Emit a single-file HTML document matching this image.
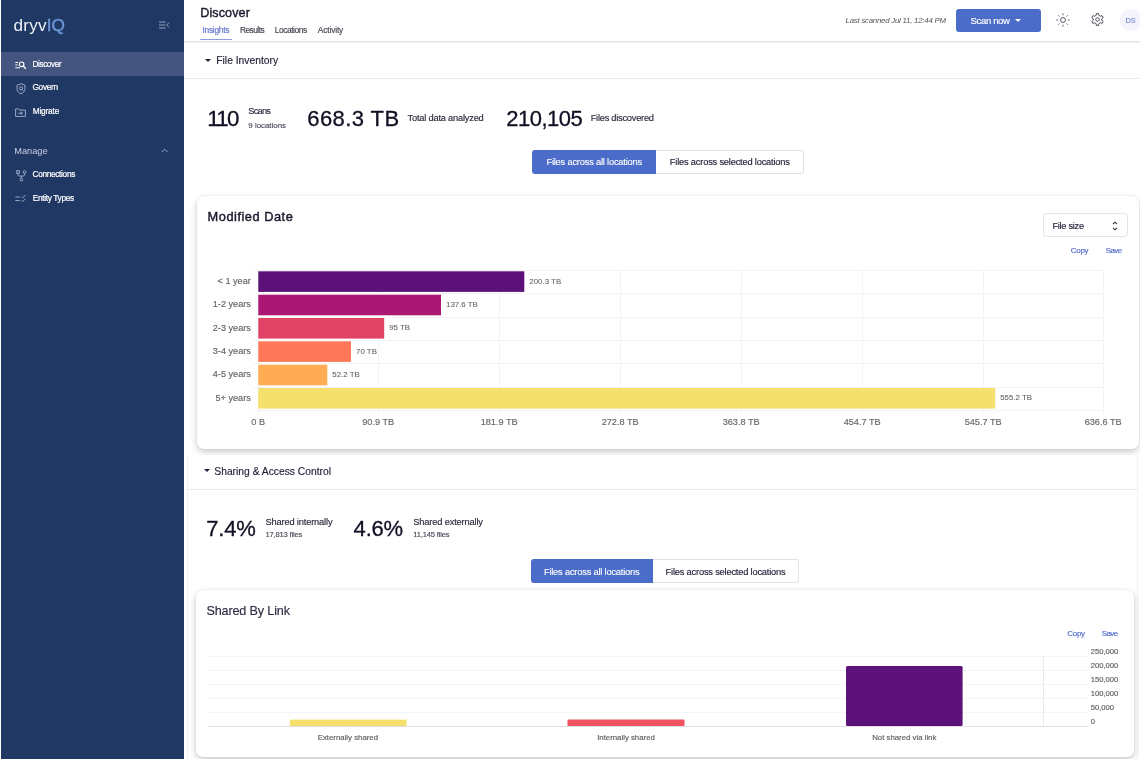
<!DOCTYPE html>
<html lang="en">
<head>
<meta charset="utf-8">
<title>Discover - Insights</title>
<style>
*{box-sizing:border-box;margin:0;padding:0}
html,body{width:1140px;height:759px;overflow:hidden;background:#fff}
body{font-family:"Liberation Sans",sans-serif;color:#1b1b2f;position:relative}
.t{position:absolute;white-space:nowrap;line-height:1;-webkit-text-stroke-width:0.15px}
.a{position:absolute}
#side{position:absolute;left:1px;top:0;width:183px;height:759px;background:#203864}
.card{position:absolute;background:#fff;border-radius:7px;box-shadow:0 3px 7px rgba(0,0,0,.2),0 0 2px rgba(0,0,0,.10)}
.hl{position:absolute;height:1px;left:184px;width:956px}
svg text{font-family:"Liberation Sans",sans-serif}
</style>
</head>
<body>
<div id="side"></div>
<div class="a" style="left:1px;top:52px;width:183px;height:24px;background:#43547f"></div>
<div class="t" style="left:13.60px;top:17.00px;font-size:17.2px;color:#eef1f7;letter-spacing:0.15px;-webkit-text-stroke-width:0;">dryv<span style="color:#6c95d6;-webkit-text-stroke:0.5px #6c95d6">IQ</span></div>
<svg class="a" style="left:159px;top:21px" width="11" height="9" viewBox="0 0 11 9" fill="none" stroke="#8f9dbb" stroke-width="1"><path d="M0 1h6.500M0 4h6.500M0 7h6.500M10 1.500 7.800 4 10 6.500"/></svg>
<svg class="a" style="left:15px;top:60px" width="12" height="10" viewBox="0 0 12 10" fill="none" stroke="#fff"><path d="M.3 2.500h2.700M.3 5h2.300M.3 7.700h4.700" stroke-width="1.100"/><circle cx="6.600" cy="4.300" r="2.300" stroke-width="1.200"/><path d="M8.300 6.100 10.800 8.700" stroke-width="1.400"/></svg>
<div class="t" style="left:32.50px;top:60.00px;font-size:8.3px;color:#ffffff;letter-spacing:-0.45px;-webkit-text-stroke:0.2px #fff;">Discover</div>
<svg class="a" style="left:15.500px;top:83px" width="10" height="12" viewBox="0 0 10 12" fill="none" stroke="#a9b4cf" stroke-width="0.900"><path d="M5 .7 1 2.200v3.500c0 2.500 1.600 4.200 4 5.100 2.400-.9 4-2.600 4-5.100V2.200z"/><circle cx="5" cy="5.400" r="1.600"/><path d="M6.100 6.600 7.200 7.800"/></svg>
<div class="t" style="left:32.50px;top:83.00px;font-size:8.3px;color:#ffffff;letter-spacing:-0.33px;-webkit-text-stroke:0.2px #fff;">Govern</div>
<svg class="a" style="left:15px;top:107.500px" width="11" height="9" viewBox="0 0 11 9" fill="none" stroke="#a9b4cf" stroke-width="0.900"><path d="M.6 .9h3.200l.9 1.200h5.700v6.300H.6z"/><path d="M3.300 5.200h4M5.900 3.700 7.400 5.200 5.900 6.700" stroke-width="1"/></svg>
<div class="t" style="left:32.70px;top:107.00px;font-size:8.3px;color:#ffffff;letter-spacing:-0.18px;-webkit-text-stroke:0.2px #fff;">Migrate</div>
<div class="t" style="left:14.30px;top:147.00px;font-size:9.2px;color:#c8d0e3;-webkit-text-stroke-width:0;">Manage</div>
<svg class="a" style="left:160.500px;top:148.200px" width="8" height="5" viewBox="0 0 8 5" fill="none" stroke="#a9b4cf" stroke-width="0.900"><path d="M.8 4.100 3.700 1.200 6.600 4.100"/></svg>
<svg class="a" style="left:15.500px;top:169.500px" width="11" height="12" viewBox="0 0 11 12" fill="none" stroke="#a9b4cf" stroke-width="0.900"><rect x=".7" y=".7" width="2.600" height="2.600"/><circle cx="8.600" cy="2" r="1.400"/><circle cx="5.300" cy="9.600" r="1.400"/><path d="M2 3.300v1.400c0 .8.500 1.300 1.300 1.300h4c.8 0 1.300-.5 1.300-1.300V3.400M5.300 6v2.200"/></svg>
<div class="t" style="left:32.50px;top:170.00px;font-size:8.3px;color:#ffffff;letter-spacing:-0.33px;-webkit-text-stroke:0.2px #fff;">Connections</div>
<svg class="a" style="left:15px;top:194px" width="12" height="9" viewBox="0 0 12 9" fill="none" stroke="#a9b4cf" stroke-width="0.900"><path d="M.3 3h4.500M.3 6.500h4.500M6.500 2.800l1.200 1.100 2.700-2.800M6.500 6.500l1.200 1.100 2.700-2.800"/></svg>
<div class="t" style="left:32.70px;top:194.00px;font-size:8.3px;color:#ffffff;letter-spacing:-0.33px;-webkit-text-stroke:0.2px #fff;">Entity Types</div>
<div class="hl" style="top:41px;background:#e4e4e8"></div>
<div class="hl" style="top:42px;background:#f4f4f6"></div>
<div class="t" style="left:200.20px;top:7.00px;font-size:12.6px;color:#1b1b2f;letter-spacing:0.1px;-webkit-text-stroke:0.4px #1b1b2f;">Discover</div>
<div class="t" style="left:202.60px;top:26.00px;font-size:8.4px;color:#6073c9;letter-spacing:-0.3px;">Insights</div>
<div class="a" style="left:200px;top:39px;width:32px;height:1px;background:#8e9de0"></div>
<div class="t" style="left:240.00px;top:26.00px;font-size:8.4px;color:#44444f;letter-spacing:-0.55px;">Results</div>
<div class="t" style="left:274.70px;top:26.00px;font-size:8.4px;color:#44444f;letter-spacing:-0.42px;">Locations</div>
<div class="t" style="left:317.80px;top:26.00px;font-size:8.4px;color:#44444f;letter-spacing:-0.15px;">Activity</div>
<div class="t" style="left:845.60px;top:17.00px;font-size:7.8px;color:#55555f;letter-spacing:-0.22px;font-style:italic;-webkit-text-stroke-width:0;">Last scanned Jul 11, 12:44 PM</div>
<div class="a" style="left:956px;top:9px;width:85px;height:23px;background:#4b6cc8;border-radius:3px"></div>
<div class="t" style="left:970.60px;top:16.00px;font-size:9.6px;color:#fff;letter-spacing:-0.4px;-webkit-text-stroke:0.15px #fff;">Scan now</div>
<div class="a" style="left:1015px;top:19.200px;width:0;height:0;border-left:3.500px solid transparent;border-right:3.500px solid transparent;border-top:3.500px solid #fff"></div>
<svg class="a" style="left:1055.400px;top:11.800px" width="16" height="16" viewBox="0 0 16 16" fill="none" stroke="#4a4a5a" stroke-width="0.900"><circle cx="8" cy="8" r="2.500"/><path d="M8 1.300v1.900M8 12.800v1.900M1.300 8h1.900M12.800 8h1.900M3.300 3.300l1.200 1.200M11.500 11.500l1.200 1.200M12.700 3.300l-1.200 1.200M4.500 11.500l-1.200 1.200"/></svg>
<svg class="a" style="left:1089.800px;top:12.100px" width="15" height="15" viewBox="0 0 16 16" fill="none" stroke="#4a4a5a" stroke-width="1.050"><circle cx="8" cy="8" r="1.900"/><path d="M6.59 3.52 L6.80 1.71 L9.20 1.71 L9.41 3.52 L11.18 4.54 L12.84 3.82 L14.04 5.90 L12.59 6.97 L12.59 9.03 L14.04 10.10 L12.84 12.18 L11.18 11.46 L9.41 12.48 L9.20 14.29 L6.80 14.29 L6.59 12.48 L4.82 11.46 L3.16 12.18 L1.96 10.10 L3.41 9.03 L3.41 6.97 L1.96 5.90 L3.16 3.82 L4.82 4.54Z" stroke-linejoin="round"/></svg>
<div class="a" style="left:1120px;top:9px;width:22px;height:22px;border-radius:11px;background:#f2f3fb"></div>
<div class="t" style="left:1125.60px;top:17.00px;font-size:7.4px;color:#6274c8;letter-spacing:-0.15px;-webkit-text-stroke-width:0;">DS</div>
<div class="a" style="left:205px;top:59px;width:0;height:0;border-left:3px solid transparent;border-right:3px solid transparent;border-top:3px solid #22223a"></div>
<div class="t" style="left:216.30px;top:56.00px;font-size:10.3px;color:#24243a;">File Inventory</div>
<div class="hl" style="top:78px;background:#e9e9ec"></div>
<div class="t" style="left:207.30px;top:108.00px;font-size:22.3px;color:#101024;letter-spacing:-1.7px;-webkit-text-stroke-width:0.3px;">110</div>
<div class="t" style="left:248.30px;top:107.00px;font-size:9.2px;color:#2a2a3c;letter-spacing:-0.72px;">Scans</div>
<div class="t" style="left:248.30px;top:122.00px;font-size:7.9px;color:#4a4a5a;">9 locations</div>
<div class="t" style="left:307.30px;top:108.00px;font-size:22px;color:#101024;letter-spacing:0.42px;-webkit-text-stroke-width:0.3px;">668.3 TB</div>
<div class="t" style="left:407.60px;top:114.00px;font-size:9.3px;color:#2a2a3c;letter-spacing:-0.22px;">Total data analyzed</div>
<div class="t" style="left:506.30px;top:108.00px;font-size:22px;color:#101024;letter-spacing:-0.5px;-webkit-text-stroke-width:0.3px;">210,105</div>
<div class="t" style="left:590.70px;top:114.00px;font-size:9.3px;color:#2a2a3c;letter-spacing:-0.26px;">Files discovered</div>
<div class="a" style="left:532px;top:150px;width:124px;height:24px;background:#4b6cc8;border-radius:3px 0 0 3px"></div>
<div class="a" style="left:656px;top:150px;width:148px;height:24px;background:#fff;border:1px solid #e1e1e7;border-left:none;border-radius:0 3px 3px 0"></div>
<div class="t" style="left:494.20px;width:200px;text-align:center;top:158.00px;font-size:9.3px;color:#fff;letter-spacing:-0.2px;-webkit-text-stroke:0.12px #fff;">Files across all locations</div>
<div class="t" style="left:629.80px;width:200px;text-align:center;top:158.00px;font-size:9.3px;color:#24243a;letter-spacing:-0.2px;">Files across selected locations</div>
<div class="card" style="left:197px;top:196px;width:941.500px;height:252.500px"></div>
<div class="a" style="left:187px;top:455px;width:951px;height:304px;background:#fff;border-left:1px solid #f2f2f4;border-right:1px solid #f2f2f4"></div>
<div class="t" style="left:207.60px;top:211.00px;font-size:12.8px;color:#1b1b2f;letter-spacing:0.52px;-webkit-text-stroke-width:0.45px;">Modified Date</div>
<div class="a" style="left:1043px;top:213px;width:85px;height:24px;border:1px solid #e3e3e8;border-radius:3.500px;background:#fff"></div>
<div class="t" style="left:1052.40px;top:222.00px;font-size:9.3px;color:#24243a;letter-spacing:-0.3px;">File size</div>
<svg class="a" style="left:1112.400px;top:220.500px" width="6" height="10" viewBox="0 0 6 10" fill="none" stroke="#2a2a3c" stroke-width="1.050"><path d="M1 3.200 3 1.200l2 2M1 6.800 3 8.800l2-2"/></svg>
<div class="t" style="left:1070.70px;top:247.00px;font-size:8px;color:#4f6cc9;letter-spacing:-0.25px;">Copy</div>
<div class="t" style="left:1105.80px;top:247.00px;font-size:8px;color:#4f6cc9;letter-spacing:-0.62px;">Save</div>
<svg class="a" style="left:198px;top:262px" width="941" height="180" viewBox="198 262 941 180">
<g stroke="#f4f4f6" stroke-width="1" fill="none"><path d="M258.5 270v144M378.5 270v144M499.5 270v144M620.5 270v144M741.5 270v144M862.5 270v144M983.5 270v144M1103.5 270v144M253 270.5h850.500M253 293.5h850.500M253 317.5h850.500M253 340.5h850.500M253 363.5h850.500M253 387.5h850.500M253 410.5h850.500"/></g>
<rect x="258.300" y="271.3" width="266.0" height="20.6" fill="#5c1278"/>
<rect x="258.300" y="294.7" width="182.7" height="20.6" fill="#ab1874"/>
<rect x="258.300" y="318.0" width="125.9" height="20.6" fill="#e04366"/>
<rect x="258.300" y="341.3" width="92.7" height="20.6" fill="#ff7859"/>
<rect x="258.300" y="364.7" width="69.0" height="20.6" fill="#ffac54"/>
<rect x="258.300" y="388.0" width="736.9" height="20.6" fill="#f5e06b"/>
</svg>
<div class="t" style="right:889.20px;top:277.00px;font-size:9.15px;color:#646469;">&lt; 1 year</div>
<div class="t" style="right:889.20px;top:300.00px;font-size:9.15px;color:#646469;">1-2 years</div>
<div class="t" style="right:889.20px;top:324.00px;font-size:9.15px;color:#646469;">2-3 years</div>
<div class="t" style="right:889.20px;top:347.00px;font-size:9.15px;color:#646469;">3-4 years</div>
<div class="t" style="right:889.20px;top:370.00px;font-size:9.15px;color:#646469;">4-5 years</div>
<div class="t" style="right:889.20px;top:394.00px;font-size:9.15px;color:#646469;">5+ years</div>
<div class="t" style="left:529.30px;top:278.00px;font-size:7.9px;color:#5e5e64;-webkit-text-stroke-width:0.05px;">200.3 TB</div>
<div class="t" style="left:446.00px;top:301.00px;font-size:7.9px;color:#5e5e64;-webkit-text-stroke-width:0.05px;">137.6 TB</div>
<div class="t" style="left:389.20px;top:324.00px;font-size:7.9px;color:#5e5e64;-webkit-text-stroke-width:0.05px;">95 TB</div>
<div class="t" style="left:356.00px;top:348.00px;font-size:7.9px;color:#5e5e64;-webkit-text-stroke-width:0.05px;">70 TB</div>
<div class="t" style="left:332.30px;top:371.00px;font-size:7.9px;color:#5e5e64;-webkit-text-stroke-width:0.05px;">52.2 TB</div>
<div class="t" style="left:1000.20px;top:394.00px;font-size:7.9px;color:#5e5e64;-webkit-text-stroke-width:0.05px;">555.2 TB</div>
<div class="t" style="left:158.20px;width:200px;text-align:center;top:418.00px;font-size:9.2px;color:#67676d;">0 B</div>
<div class="t" style="left:278.20px;width:200px;text-align:center;top:418.00px;font-size:9.2px;color:#67676d;">90.9 TB</div>
<div class="t" style="left:399.20px;width:200px;text-align:center;top:418.00px;font-size:9.2px;color:#67676d;">181.9 TB</div>
<div class="t" style="left:520.20px;width:200px;text-align:center;top:418.00px;font-size:9.2px;color:#67676d;">272.8 TB</div>
<div class="t" style="left:641.20px;width:200px;text-align:center;top:418.00px;font-size:9.2px;color:#67676d;">363.8 TB</div>
<div class="t" style="left:762.20px;width:200px;text-align:center;top:418.00px;font-size:9.2px;color:#67676d;">454.7 TB</div>
<div class="t" style="left:883.20px;width:200px;text-align:center;top:418.00px;font-size:9.2px;color:#67676d;">545.7 TB</div>
<div class="t" style="left:1003.20px;width:200px;text-align:center;top:418.00px;font-size:9.2px;color:#67676d;">636.6 TB</div>
<div class="a" style="left:203.500px;top:469.300px;width:0;height:0;border-left:3px solid transparent;border-right:3px solid transparent;border-top:3px solid #22223a"></div>
<div class="t" style="left:214.30px;top:467.00px;font-size:10.3px;color:#24243a;">Sharing &amp; Access Control</div>
<div class="hl" style="top:489px;background:#e9e9ec;left:187px;width:951px"></div>
<div class="t" style="left:206.20px;top:518.00px;font-size:22px;color:#101024;letter-spacing:-0.2px;-webkit-text-stroke-width:0.3px;">7.4%</div>
<div class="t" style="left:265.50px;top:518.00px;font-size:9.3px;color:#2a2a3c;letter-spacing:-0.17px;">Shared internally</div>
<div class="t" style="left:265.50px;top:531.00px;font-size:7.6px;color:#4a4a5a;letter-spacing:-0.19px;">17,813 files</div>
<div class="t" style="left:353.60px;top:518.00px;font-size:22px;color:#101024;letter-spacing:-0.2px;-webkit-text-stroke-width:0.3px;">4.6%</div>
<div class="t" style="left:413.30px;top:518.00px;font-size:9.3px;color:#2a2a3c;letter-spacing:-0.17px;">Shared externally</div>
<div class="t" style="left:413.30px;top:531.00px;font-size:7.6px;color:#4a4a5a;letter-spacing:-0.19px;">11,145 files</div>
<div class="a" style="left:530.5px;top:559px;width:122.0px;height:24px;background:#4b6cc8;border-radius:3px 0 0 3px"></div>
<div class="a" style="left:652.5px;top:559px;width:146.5px;height:24px;background:#fff;border:1px solid #e1e1e7;border-left:none;border-radius:0 3px 3px 0"></div>
<div class="t" style="left:491.70px;width:200px;text-align:center;top:568.00px;font-size:9.3px;color:#fff;letter-spacing:-0.2px;-webkit-text-stroke:0.12px #fff;">Files across all locations</div>
<div class="t" style="left:625.55px;width:200px;text-align:center;top:568.00px;font-size:9.3px;color:#24243a;letter-spacing:-0.2px;">Files across selected locations</div>
<div class="card" style="left:196px;top:590px;width:938px;height:166.500px"></div>
<div class="t" style="left:206.50px;top:605.00px;font-size:12.6px;color:#2b2b44;letter-spacing:-0.15px;">Shared By Link</div>
<div class="t" style="left:1067.20px;top:630.00px;font-size:8px;color:#4f6cc9;letter-spacing:-0.25px;">Copy</div>
<div class="t" style="left:1101.80px;top:630.00px;font-size:8px;color:#4f6cc9;letter-spacing:-0.62px;">Save</div>
<svg class="a" style="left:196px;top:640px" width="938" height="110" viewBox="196 640 938 110">
<g stroke="#f5f5f7" stroke-width="1" fill="none"><path d="M208.500 656.5h880M208.500 670.5h880M208.500 684.5h880M208.500 698.5h880M208.500 712.5h880"/><path d="M1043.500 656v70" stroke="#eaeaed"/></g>
<path d="M208.500 726.500h880" stroke="#dfdfe3" stroke-width="1"/>
<rect x="290" y="719.600" width="116.500" height="6.400" fill="#f5e06b"/>
<rect x="567.500" y="719.600" width="117" height="6.400" rx="0.500" fill="#f0525f"/>
<rect x="846" y="666.100" width="116.600" height="59.900" rx="1.500" fill="#5c1278"/>
</svg>
<div class="t" style="left:247.90px;width:200px;text-align:center;top:734.00px;font-size:7.8px;color:#5c5c62;">Externally shared</div>
<div class="t" style="left:526.00px;width:200px;text-align:center;top:734.00px;font-size:7.8px;color:#5c5c62;">Internally shared</div>
<div class="t" style="left:804.30px;width:200px;text-align:center;top:734.00px;font-size:7.8px;color:#5c5c62;">Not shared via link</div>
<div class="t" style="left:1090.80px;top:648.00px;font-size:7.6px;color:#5c5c62;">250,000</div>
<div class="t" style="left:1090.80px;top:662.00px;font-size:7.6px;color:#5c5c62;">200,000</div>
<div class="t" style="left:1090.80px;top:676.00px;font-size:7.6px;color:#5c5c62;">150,000</div>
<div class="t" style="left:1090.80px;top:690.00px;font-size:7.6px;color:#5c5c62;">100,000</div>
<div class="t" style="left:1090.80px;top:704.00px;font-size:7.6px;color:#5c5c62;">50,000</div>
<div class="t" style="left:1090.80px;top:718.00px;font-size:7.6px;color:#5c5c62;">0</div>
</body>
</html>
